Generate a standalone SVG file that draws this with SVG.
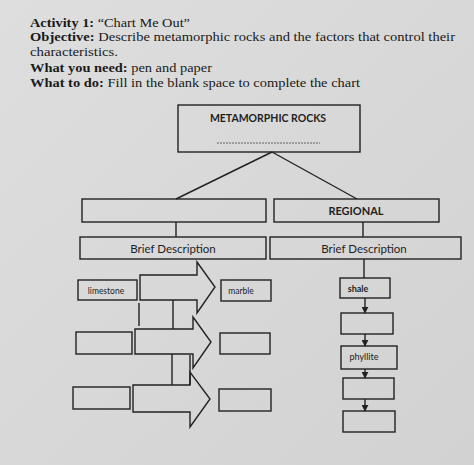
<svg xmlns="http://www.w3.org/2000/svg" width="474" height="465" viewBox="0 0 474 465">
<defs>
<linearGradient id="bg" x1="0" y1="0" x2="1" y2="1">
<stop offset="0" stop-color="#dedede"/>
<stop offset="1" stop-color="#d2d2d2"/>
</linearGradient>
<marker id="ah" viewBox="0 0 10 10" refX="9" refY="5" markerWidth="7" markerHeight="7" orient="auto" markerUnits="userSpaceOnUse">
<path d="M0,0 L10,5 L0,10 z" fill="#222"/>
</marker>
<style>
.hd{font-family:"Liberation Serif","DejaVu Serif",serif;font-size:13.5px;fill:#1a1a1a}
.b{font-weight:bold}
.box{fill:none;stroke:#222;stroke-width:1.4}
.ln{fill:none;stroke:#222;stroke-width:1.4}
.arr{fill:none;stroke:#222;stroke-width:1.4;stroke-linejoin:miter}
.t{font-family:Lato,"Open Sans","Liberation Sans",sans-serif;fill:#1e1e1e;text-anchor:middle}
</style>
</defs>
<rect width="474" height="465" fill="url(#bg)"/>
<g id="header">
<text class="hd" x="30" y="27" textLength="160" lengthAdjust="spacingAndGlyphs"><tspan class="b">Activity 1:</tspan> “Chart Me Out”</text>
<text class="hd" x="30" y="41" textLength="425" lengthAdjust="spacingAndGlyphs"><tspan class="b">Objective:</tspan> Describe metamorphic rocks and the factors that control their</text>
<text class="hd" x="30" y="56" textLength="88" lengthAdjust="spacingAndGlyphs">characteristics.</text>
<text class="hd" x="30" y="72" textLength="182" lengthAdjust="spacingAndGlyphs"><tspan class="b">What you need:</tspan> pen and paper</text>
<text class="hd" x="30" y="87" textLength="330" lengthAdjust="spacingAndGlyphs"><tspan class="b">What to do:</tspan> Fill in the blank space to complete the chart</text>
</g>
<g id="connectors">
<line class="ln" x1="272" y1="152" x2="176" y2="199"/>
<line class="ln" x1="272" y1="152" x2="357" y2="199"/>
<line class="ln" x1="176" y1="222" x2="176" y2="237"/>
<line class="ln" x1="363" y1="222" x2="363" y2="237"/>
<line class="ln" x1="364" y1="259" x2="364" y2="278"/>
<line class="ln" x1="139" y1="303" x2="139" y2="326"/>
<line class="ln" x1="173" y1="300" x2="173" y2="329"/>
<line class="ln" x1="172" y1="354" x2="172" y2="385"/>
<line class="ln" x1="190" y1="355" x2="190" y2="385"/>
<line class="ln" x1="365" y1="298" x2="365" y2="313" marker-end="url(#ah)"/>
<line class="ln" x1="365" y1="334" x2="365" y2="346" marker-end="url(#ah)"/>
<line class="ln" x1="365" y1="369" x2="365" y2="378" marker-end="url(#ah)"/>
<line class="ln" x1="365" y1="399" x2="365" y2="411" marker-end="url(#ah)"/>
</g>
<g id="metamorphic-rocks">
<rect class="box" x="178" y="105" width="182" height="47"/>
<text class="t" x="268" y="122" font-size="10.5" font-weight="bold">METAMORPHIC ROCKS</text>
<line x1="217" y1="143" x2="320" y2="143" stroke="#444" stroke-width="0.8" stroke-dasharray="2,1"/>
</g>
<g id="left-type">
<rect class="box" x="82" y="199" width="184" height="23"/>
</g>
<g id="regional">
<rect class="box" x="274" y="199" width="165" height="23"/>
<text class="t" x="356" y="215" font-size="11" font-weight="bold">REGIONAL</text>
</g>
<g id="brief-left">
<rect class="box" x="80" y="237" width="186" height="22"/>
<text class="t" x="173" y="253" font-size="11.5">Brief Description</text>
</g>
<g id="brief-right">
<rect class="box" x="270" y="237" width="191" height="22"/>
<text class="t" x="364" y="253" font-size="11.5">Brief Description</text>
</g>
<g id="limestone">
<rect class="box" x="78" y="280" width="59" height="20"/>
<text class="t" x="106" y="294" font-size="8.5">limestone</text>
</g>
<g id="arrow-1">
<path class="arr" d="M140,275 H197 V262 L215,287 L197,313 V300 H140 Z"/>
</g>
<g id="marble">
<rect class="box" x="221" y="280" width="50" height="21"/>
<text class="t" x="241" y="294" font-size="8.5">marble</text>
</g>
<g id="left-2">
<rect class="box" x="76" y="332" width="56" height="22"/>
</g>
<g id="arrow-2">
<path class="arr" d="M135,329 H193 V317 L211,342 L193,368 V354 H135 Z"/>
</g>
<g id="right-2">
<rect class="box" x="220" y="333" width="50" height="21"/>
</g>
<g id="left-3">
<rect class="box" x="73" y="387" width="57" height="22"/>
</g>
<g id="arrow-3">
<path class="arr" d="M133,385 H190 V372 L210,399 L190,427 V412 H133 Z"/>
</g>
<g id="right-3">
<rect class="box" x="219" y="389" width="52" height="22"/>
</g>
<g id="shale">
<rect class="box" x="340" y="278" width="50" height="20"/>
<text class="t" x="358" y="292" font-size="9" font-weight="bold">shale</text>
</g>
<g id="regional-2">
<rect class="box" x="341" y="313" width="52" height="21"/>
</g>
<g id="phyllite">
<rect class="box" x="341" y="346" width="56" height="23"/>
<text class="t" x="364" y="360" font-size="9">phyllite</text>
</g>
<g id="regional-4">
<rect class="box" x="343" y="378" width="51" height="21"/>
</g>
<g id="regional-5">
<rect class="box" x="343" y="411" width="52" height="21"/>
</g>
</svg>
